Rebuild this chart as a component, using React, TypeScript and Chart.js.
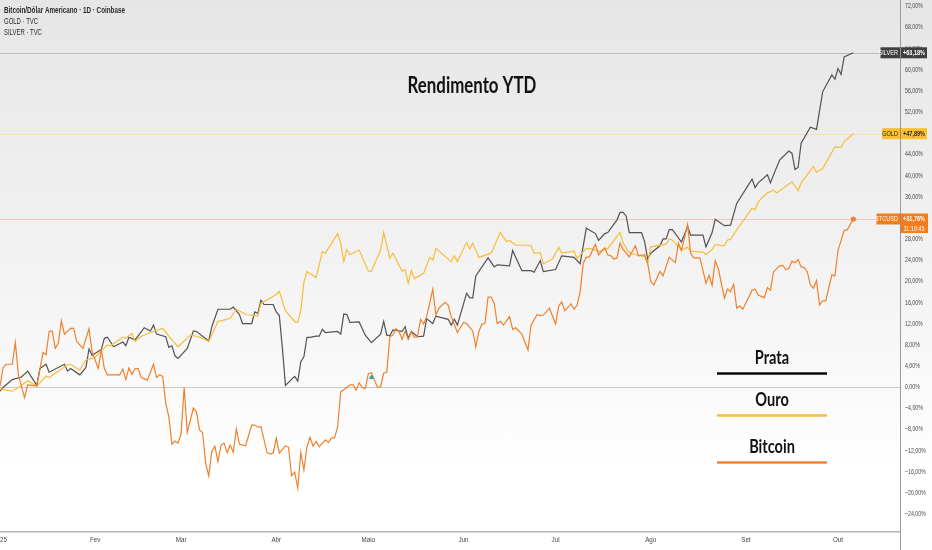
import { useRef, useEffect } from "react";
import Chart from "chart.js/auto";

// day of 2025 (0 = 1 Jan) and YTD return in %
const bitcoinDays = [0,1,2,4,5,6,8,9,12,14,15,16,17,18,19,20,21,23,24,25,27,29,30,32,33,34,35,39,40,41,42,43,44,45,46,48,50,51,52,53,54,55,56,57,58,59,60,61,63,64,65,66,67,68,69,70,71,72,73,74,75,76,77,78,80,82,83,84,85,87,88,89,90,91,93,94,95,96,97,98,99,100,101,102,103,104,106,107,108,109,110,111,112,114,115,116,117,118,119,120,121,122,123,124,125,126,127,128,129,130,131,132,133,134,135,136,137,138,139,141,142,143,145,146,147,149,151,152,154,155,156,157,158,159,160,161,162,163,164,166,167,168,170,172,173,175,176,177,179,181,182,183,184,186,187,188,189,190,191,192,194,195,197,198,199,200,201,202,203,205,207,208,210,211,212,213,215,216,218,220,221,222,224,225,226,228,230,231,232,233,234,236,237,238,239,240,241,242,245,246,247,249,250,251,252,254,255,256,257,258,259,260,261,262,263,264,265,266,267,268,269,271,272,273,275,276,278];
const bitcoinValues = [0.1,3.7,4.3,4.3,8.4,2.3,-2.0,0.4,0.2,6.5,6.1,10.5,10.6,7.3,8.3,12.5,10.0,11.1,11.1,8.6,7.3,11.0,6.7,3.5,7.0,3.5,2.3,2.3,3.4,1.4,3.6,2.4,3.5,3.5,1.8,1.3,4.3,1.8,2.3,2.0,-3.1,-5.6,-10.8,-10.2,-10.6,-8.8,-0.1,-8.6,-4.0,-4.7,-8.1,-8.6,-14.4,-16.8,-12.2,-11.2,-14.1,-11.0,-10.6,-12.4,-11.0,-12.3,-7.9,-10.8,-11.1,-7.2,-7.2,-7.6,-7.5,-12.4,-12.7,-12.5,-9.7,-12.5,-11.1,-11.4,-16.8,-16.1,-19.1,-12.4,-15.7,-11.3,-9.5,-11.2,-10.3,-11.3,-10.0,-10.5,-9.6,-9.6,-7.5,-0.9,-0.5,0.4,0.4,-0.6,0.8,-0.1,-0.3,2.5,2.7,1.3,-0.1,0.1,2.6,2.8,9.5,9.8,11.0,10.5,9.0,10.6,9.0,10.4,9.4,9.5,12.8,11.9,13.3,18.5,13.6,14.9,16.0,15.5,13.3,10.3,12.2,12.0,10.6,7.6,10.5,11.9,12.0,17.0,17.0,15.8,12.0,12.4,11.7,13.3,10.9,11.2,10.0,7.0,11.7,13.7,13.5,13.6,14.9,11.9,15.3,16.1,14.4,15.7,14.7,15.5,18.0,23.4,24.5,24.6,27.0,25.0,26.3,25.0,24.8,24.2,24.4,27.2,26.0,24.6,26.7,24.8,25.0,23.4,19.9,19.3,21.9,21.0,24.5,23.5,27.2,25.8,30.7,25.3,24.4,24.4,19.6,21.1,19.2,23.9,22.4,16.8,18.5,18.0,19.4,14.9,15.3,14.7,18.3,18.5,17.4,16.9,18.8,18.3,21.8,22.9,23.0,22.2,22.4,23.8,23.5,24.1,22.7,22.6,21.8,19.3,18.7,20.1,15.5,16.3,16.3,21.2,21.0,25.8,29.6,29.7,31.76];

const goldDays = [0,2,4,6,9,12,14,15,16,22,23,26,28,31,33,35,36,40,41,43,44,46,50,53,55,58,62,64,66,68,71,72,75,77,78,80,84,85,90,91,93,96,97,98,99,100,103,105,106,110,111,112,113,114,117,120,121,124,125,127,128,131,132,133,134,135,138,140,141,142,147,148,149,152,153,154,156,160,163,165,166,168,173,174,176,177,180,182,183,187,188,191,193,195,198,202,203,205,207,210,211,212,217,218,219,222,224,225,229,230,232,233,236,237,238,240,245,246,247,250,252,253,258,260,261,265,266,268,272,274,275,278];
const goldValues = [-0.3,-0.6,-0.8,-0.1,1.2,0.2,1.4,2.1,1.8,4.2,4.3,3.2,5.1,5.6,6.9,7.9,7.8,9.4,9.2,10.1,8.6,9.6,10.5,11.1,9.6,7.6,9.8,9.6,9.2,8.6,12.4,12.5,13.0,14.7,14.4,13.7,13.4,15.8,17.5,18.1,14.4,12.4,12.2,14.6,19.8,21.8,20.7,25.6,25.3,29.0,27.2,23.7,26.0,25.0,25.9,21.9,21.9,25.9,29.2,24.3,25.3,21.9,22.2,19.6,22.0,20.5,21.5,24.5,24.0,26.2,23.7,24.8,23.7,27.3,26.1,27.2,24.5,25.3,29.2,27.5,27.7,26.8,26.8,25.3,25.4,23.3,24.2,26.4,25.3,25.7,24.3,26.2,26.1,25.6,26.2,29.2,27.2,25.4,25.0,24.6,23.3,26.5,27.0,28.0,27.8,25.9,26.4,25.7,25.5,25.0,26.0,26.9,26.7,27.8,27.9,29.7,33.8,33.5,35.0,36.7,37.2,36.7,38.8,37.1,38.6,41.7,40.6,41.3,45.4,45.3,46.4,47.89];

const silverDays = [0,1,4,7,9,12,13,15,16,21,22,23,26,28,29,30,33,34,35,37,40,41,42,44,47,49,50,51,54,55,56,57,58,61,63,64,68,69,71,75,76,78,79,82,83,84,85,86,89,90,91,92,93,96,97,98,99,100,101,103,104,105,106,110,111,112,113,114,117,119,121,124,125,126,127,128,131,132,133,134,136,138,139,141,142,146,147,148,149,152,153,154,155,159,161,162,166,167,170,173,174,176,177,181,183,187,189,191,194,195,197,198,201,202,203,204,205,209,210,211,212,215,216,217,218,219,222,224,225,229,230,232,233,236,238,240,245,246,247,250,251,252,254,257,258,259,260,261,264,266,268,271,272,273,274,275,278];
const silverValues = [-0.8,-0.1,1.4,1.9,3.0,0.3,3.5,4.3,2.8,4.3,3.0,3.5,2.3,3.7,7.2,6.0,7.1,9.2,9.4,7.6,8.5,7.8,9.4,8.9,11.2,10.6,11.7,10.0,9.5,7.5,7.8,5.9,5.4,7.3,10.6,10.5,8.7,11.4,14.7,14.7,15.1,13.7,12.0,12.0,14.2,13.9,16.4,15.6,15.6,14.2,13.5,7.3,0.3,2.0,1.1,4.8,5.7,9.4,9.4,9.6,9.6,10.9,10.3,10.5,10.0,13.8,13.7,12.2,12.3,9.8,8.4,10.0,12.4,9.8,9.7,10.8,10.5,11.4,9.2,10.5,9.5,9.6,12.9,12.0,13.4,12.8,11.7,12.8,11.7,17.7,16.9,16.8,21.0,24.4,22.7,23.1,22.9,25.8,22.0,22.0,21.7,23.9,21.8,22.2,24.8,24.5,23.3,30.0,29.0,27.7,29.0,29.2,31.6,33.0,33.0,32.3,29.2,29.2,27.5,24.2,25.3,26.7,28.0,28.0,29.7,29.8,27.4,30.3,28.7,28.7,26.5,29.2,31.7,30.5,30.6,34.7,39.3,37.7,38.6,40.1,38.6,40.1,42.9,44.6,44.2,41.1,41.5,46.1,49.1,48.7,55.8,59.0,58.2,60.2,59.1,62.4,63.18];

const markerDays = [121];
const markerValues = [1.8];

const monthDays = [0,31,59,90,120,151,181,212,243,273];
const monthLabels = ["2025","Fev","Mar","Abr","Maio","Jun","Jul","Ago","Set","Out"];
const yTicks = [-24,-20,-16,-12,-8,-4,0,4,8,12,16,20,24,28,32,36,40,44,48,52,56,60,64,68,72];

const legendNames = ["Prata", "Ouro", "Bitcoin"];
const headerLines = ["Bitcoin/Dólar Americano · 1D · Coinbase", "GOLD · TVC", "SILVER · TVC"];

const BTC = "#f0812a";
const GOLD = "#f8bd3a";
const SILVER = "#525252";
const BODY = '"Liberation Sans", sans-serif';
const HEAD = '"Lato", sans-serif';

const toPoints = (days: number[], values: number[]) =>
  days.map((d, i) => ({ x: d, y: values[i] }));

const pct = (v: number) => v.toFixed(2).replace(".", ",").replace("-", "−") + "%";

// squeezes text sideways, the reference font is a narrow one
const squeezed = (ctx: any, text: string, x: number, y: number, font: string, color: string, sx: number, align = "left") => {
  ctx.save();
  ctx.font = font;
  ctx.fillStyle = color;
  ctx.textAlign = align;
  ctx.textBaseline = "middle";
  ctx.translate(x, y);
  ctx.scale(sx, 1);
  ctx.fillText(text, 0, 0);
  ctx.restore();
};

const overlays = {
  id: "overlays",
  beforeDatasetsDraw(chart: any) {
    const { ctx, chartArea, scales } = chart;
    const lines: [number, string][] = [
      [0, "#c9c9c9"],
      [63.18, "#bdbdbd"],
      [47.89, "#f6e2ab"],
      [31.76, "#f8c4c0"],
    ];
    ctx.save();
    ctx.lineWidth = 1;
    lines.forEach(([v, color]) => {
      const y = Math.round(scales.y.getPixelForValue(v)) + 0.5;
      ctx.strokeStyle = color;
      ctx.beginPath();
      ctx.moveTo(chartArea.left, y);
      ctx.lineTo(chartArea.right, y);
      ctx.stroke();
    });
    ctx.restore();
  },
  afterDraw(chart: any) {
    const { ctx, scales, chartArea } = chart;
    const axisX = chartArea.right;

    // axis line runs on to the bottom of the picture
    ctx.fillStyle = "#9a9a9a";
    ctx.fillRect(axisX, 0, 1, 550);

    // tick labels, through the scales so they sit on their values
    scales.y.ticks.forEach((t: any) => {
      squeezed(ctx, pct(t.value), 905, scales.y.getPixelForValue(t.value), "7.8px " + BODY, "#444444", 0.67);
    });
    scales.x.ticks.forEach((t: any) => {
      const label = monthLabels[monthDays.indexOf(t.value)];
      squeezed(ctx, label, scales.x.getPixelForValue(t.value), 540, "8px " + BODY, "#444444", 0.78, "center");
    });

    headerLines.forEach((t, i) => {
      const bold = i === 0;
      squeezed(ctx, t, 4, 11 + i * 11, (bold ? "700 " : "") + "8.5px " + BODY, "#2a2a2a", bold ? 0.74 : 0.7);
    });

    squeezed(ctx, "Rendimento YTD", 472, 85.5, "700 22px " + HEAD, "#111", 0.765, "center");

    const legendColors = ["#000000", GOLD, BTC];
    const legendTextY = [358, 400.5, 447];
    const legendLineY = [373.5, 415.5, 462.5];
    legendNames.forEach((name, i) => {
      squeezed(ctx, name, 772, legendTextY[i], "700 18px " + HEAD, "#111", 0.81, "center");
      ctx.fillStyle = legendColors[i];
      ctx.fillRect(717, legendLineY[i] - 1.2, 110, 2.4);
    });

    const tags = [
      { name: "SILVER", value: "+63,18%", v: 63.18, bg: "#3f3f3f", fg: "#ffffff", left: 880.5, right: 927 },
      { name: "GOLD", value: "+47,89%", v: 47.89, bg: "#fbc02d", fg: "#2a2a2a", left: 882, right: 927 },
      { name: "BTCUSD", value: "+31,76%", v: 31.76, bg: "#f57c1a", fg: "#ffffff", left: 876.5, right: 928 },
    ];
    tags.forEach((t) => {
      const y = scales.y.getPixelForValue(t.v);
      ctx.fillStyle = t.bg;
      ctx.fillRect(t.left, y - 5.5, t.right - t.left, 11);
      if (t.name === "BTCUSD") {
        ctx.fillRect(axisX + 1, y + 5, t.right - axisX - 1, 9);
        squeezed(ctx, "11:19:45", axisX + 14, y + 9.5, "7.5px " + BODY, t.fg, 0.74, "center");
      }
      squeezed(ctx, t.name, axisX - 2, y, "8px " + BODY, t.fg, 0.7, "right");
      squeezed(ctx, t.value, axisX + 14, y, "700 7.5px " + BODY, t.fg, 0.74, "center");
      ctx.fillStyle = "#8f8f8f";
      ctx.fillRect(axisX, y - 5.5, 1, t.name === "BTCUSD" ? 20 : 11);
    });
  },
};

const App = () => {
  const canvasRef = useRef<HTMLCanvasElement>(null);

  useEffect(() => {
    const ctx = canvasRef.current?.getContext("2d");
    if (!ctx) return;
    const lastBtc = bitcoinDays.length - 1;

    const myChart = new Chart(ctx as any, {
      type: "line",
      data: {
        datasets: [
          {
            label: "Marker",
            data: toPoints(markerDays, markerValues),
            showLine: false,
            pointStyle: "triangle",
            pointRadius: 2.2,
            backgroundColor: "#26a69a",
            borderColor: "#26a69a",
          },
          {
            label: "BTCUSD",
            data: toPoints(bitcoinDays, bitcoinValues),
            borderColor: BTC,
            backgroundColor: BTC,
            borderWidth: 1.2,
            pointRadius: (c: any) => (c.dataIndex === lastBtc ? 2 : 0),
            tension: 0,
          },
          {
            label: "GOLD",
            data: toPoints(goldDays, goldValues),
            borderColor: GOLD,
            borderWidth: 1.2,
            pointRadius: 0,
            tension: 0,
          },
          {
            label: "SILVER",
            data: toPoints(silverDays, silverValues),
            borderColor: SILVER,
            borderWidth: 1.2,
            pointRadius: 0,
            tension: 0,
          },
        ],
      },
      options: {
        animation: false,
        responsive: false,
        layout: { padding: 0, autoPadding: false },
        plugins: { legend: { display: false }, title: { display: false }, tooltip: { enabled: false } },
        scales: {
          x: {
            type: "linear",
            min: 0,
            max: 293.2,
            grid: { display: false },
            border: { color: "#b4b4b4", width: 1.5 },
            afterBuildTicks: (scale: any) => {
              scale.ticks = monthDays.map((d) => ({ value: d }));
            },
            afterFit: (scale: any) => {
              scale.height = 18;
              scale.paddingLeft = 0;
              scale.paddingRight = 0;
            },
            ticks: { display: false },
          },
          y: {
            position: "right",
            min: -27.41,
            max: 73.16,
            grid: { display: false },
            border: { color: "#9a9a9a", width: 1 },
            afterBuildTicks: (scale: any) => {
              scale.ticks = yTicks.map((v) => ({ value: v }));
            },
            afterFit: (scale: any) => {
              scale.width = 32;
              scale.paddingTop = 0;
              scale.paddingBottom = 0;
            },
            ticks: { display: false },
          },
        },
      },
      plugins: [overlays],
    } as any);

    return () => {
      myChart.destroy();
    };
  }, []);

  return (
    <div
      style={{
        position: "fixed",
        left: 0,
        top: 0,
        width: 932,
        height: 550,
        background: "linear-gradient(180deg, #e6e6e6 0%, #f3f3f3 50%, #ffffff 85%)",
      }}
    >
      <canvas ref={canvasRef} width={932} height={550} style={{ display: "block" }}></canvas>
    </div>
  );
};

export default App;
